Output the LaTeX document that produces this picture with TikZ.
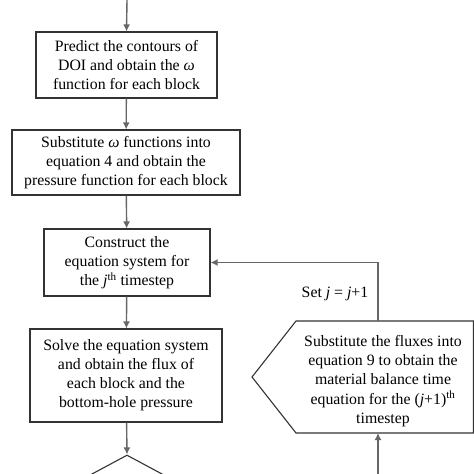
\documentclass[tikz,border=0pt]{standalone}
\usepackage{fontspec}
\setmainfont{Liberation Serif}
\usetikzlibrary{arrows.meta,shapes.geometric}
\begin{document}
\begin{tikzpicture}[x=1pt,y=1pt,
  box/.style={draw=black!80, line width=1.1pt, fill=white, align=center, inner sep=0pt,
    font=\fontsize{15.8}{19}\selectfont},
  conn/.style={draw=black!60, line width=1.4pt, -{Latex[length=7pt,width=7pt]}}]
\useasboundingbox (0,0) rectangle (474,-474);
\clip (0,0) rectangle (474,-474);
\coordinate (top) at (127,0);
\node[box, minimum width=181pt, minimum height=66pt] (b1) at (126.5,-65)
  {Predict the contours of\\DOI and obtain the \textit{ω}\\function for each block};
\node[box, minimum width=228pt, minimum height=65pt] (b2) at (126,-162.5)
  {Substitute \textit{ω} functions into\\equation 4 and obtain the\\pressure function for each block};
\node[box, minimum width=166pt, minimum height=67pt] (b3) at (127,-262.5)
  {Construct the\\equation system for\\the \textit{j}\textsuperscript{th} timestep};
\node[box, minimum width=192pt, minimum height=93pt] (b4) at (126,-375.5)
  {Solve the equation system\\and obtain the flux of\\each block and the\\bottom-hole pressure};
\node[draw=black!80, line width=1.1pt, fill=white, diamond, aspect=1.85, minimum width=160pt, minimum height=86pt] (dia) at (127,-498) {};
% pentagon
\coordinate (pA) at (252,-377);
\coordinate (pB) at (296,-321);
\coordinate (pC) at (473.5,-321);
\coordinate (pD) at (473.5,-433);
\coordinate (pE) at (296,-433);
\draw[black!80, line width=1.1pt, fill=white] (pA) -- (pB) -- (pC) -- (pD) -- (pE) -- cycle;
\node[align=center, inner sep=0pt, font=\fontsize{15.8}{19.3}\selectfont] (b5) at (383,-381)
  {Substitute the fluxes into\\equation 9 to obtain the\\material balance time\\equation for the (\textit{j}+1)\textsuperscript{th}\\timestep};
\coordinate (p5top) at (378,-321);
\coordinate (p5bot) at (378,-433);
\coordinate (bend) at (378,-262.5);
\coordinate (bot) at (378,-474);
\node[font=\fontsize{15.8}{16}\selectfont] (lab) at (335,-294) {Set \textit{j} = \textit{j}+1};
\draw[conn] (top) -- (b1.north);
\draw[conn] (b1) -- (b2);
\draw[conn] (b2) -- (b3);
\draw[conn] (b3) -- (b4);
\draw[conn] (b4) -- (dia.north);
\draw[conn] (p5top) -- (bend) -- (b3.east);
\draw[conn] (bot) -- (p5bot);
\end{tikzpicture}
\end{document}
